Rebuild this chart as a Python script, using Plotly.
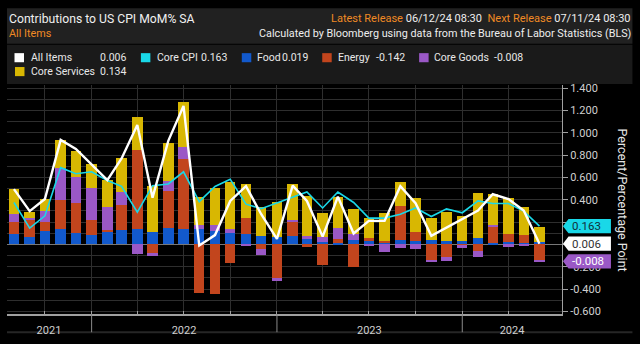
import plotly.graph_objects as go

# ---------------- data ----------------
months = ["2021-07-31", "2021-08-31", "2021-09-30", "2021-10-31", "2021-11-30", "2021-12-31",
          "2022-01-31", "2022-02-28", "2022-03-31", "2022-04-30", "2022-05-31", "2022-06-30",
          "2022-07-31", "2022-08-31", "2022-09-30", "2022-10-31", "2022-11-30", "2022-12-31",
          "2023-01-31", "2023-02-28", "2023-03-31", "2023-04-30", "2023-05-31", "2023-06-30",
          "2023-07-31", "2023-08-31", "2023-09-30", "2023-10-31", "2023-11-30", "2023-12-31",
          "2024-01-31", "2024-02-29", "2024-03-31", "2024-04-30", "2024-05-31"]

food = [0.089, 0.063, 0.123, 0.137, 0.106, 0.086,
        0.109, 0.132, 0.137, 0.109, 0.149, 0.140,
        0.140, 0.120, 0.103, 0.097, 0.074, 0.063,
        0.074, 0.052, 0.017, 0.011, 0.040, 0.034,
        0.011, 0.040, 0.026, 0.040, 0.026, 0.026,
        0.060, 0.011, 0.017, 0.011, 0.019]

energy = [0.114, 0.157, 0.080, 0.263, 0.260, 0.134,
          0.023, 0.223, 0.704, -0.077, 0.332, 0.621,
          -0.438, -0.444, -0.166, 0.137, -0.045, -0.298,
          0.123, -0.023, -0.183, 0.040, -0.203, 0.023,
          0.020, 0.300, 0.083, -0.137, -0.109, -0.010,
          -0.063, 0.143, 0.080, 0.072, -0.142]

core_goods = [0.072, 0.014, 0.094, 0.286, 0.237, 0.289,
              0.200, 0.114, -0.087, -0.029, 0.086, 0.114,
              0.029, 0.057, 0.037, -0.015, -0.050, -0.029,
              0.020, 0.023, 0.046, 0.097, 0.057, -0.017,
              -0.069, -0.037, -0.046, -0.023, -0.037, -0.023,
              -0.049, 0.020, -0.023, -0.017, -0.008]

core_services = [0.220, 0.052, 0.109, 0.249, 0.237, 0.209,
                 0.243, 0.306, 0.300, 0.418, 0.338, 0.400,
                 0.258, 0.332, 0.420, 0.303, 0.258, 0.320,
                 0.323, 0.360, 0.220, 0.278, 0.223, 0.183,
                 0.252, 0.220, 0.303, 0.200, 0.263, 0.232,
                 0.403, 0.280, 0.315, 0.249, 0.134]

all_items = [0.495, 0.298, 0.406, 0.936, 0.855, 0.712,
             0.575, 0.770, 1.070, 0.418, 0.927, 1.240,
             -0.010, 0.083, 0.389, 0.521, 0.270, 0.049,
             0.526, 0.389, 0.069, 0.426, 0.097, 0.210,
             0.210, 0.521, 0.369, 0.077, 0.149, 0.223,
             0.303, 0.449, 0.406, 0.303, 0.006]

core_cpi = [0.375, 0.146, 0.255, 0.687, 0.632, 0.650,
            0.572, 0.520, 0.289, 0.526, 0.541, 0.650,
            0.383, 0.518, 0.584, 0.360, 0.320, 0.372,
            0.426, 0.469, 0.326, 0.469, 0.375, 0.235,
            0.235, 0.270, 0.326, 0.249, 0.318, 0.283,
            0.389, 0.366, 0.366, 0.298, 0.163]

year_ticks = ["2021-10-08", "2022-07-01", "2023-07-01", "2024-04-07"]
year_labels = ["2021", "2022", "2023", "2024"]
quarter_lines = ["2021-09-30", "2021-12-31", "2022-03-31", "2022-06-30", "2022-09-30",
                 "2022-12-31", "2023-03-31", "2023-06-30", "2023-09-30", "2023-12-31",
                 "2024-03-31"]
year_breaks = ["2021-12-31", "2022-12-31", "2023-12-31"]
y_ticks = [-0.6, -0.4, -0.2, 0.0, 0.2, 0.4, 0.6, 0.8, 1.0, 1.2, 1.4]
# 0.200 and 0.000 sit fully behind the value tags in the reference
y_labels = ["" if v in (0.0, 0.2) else f"{v:.3f}" for v in y_ticks]

# ---------------- geometry ----------------
W, H = 640, 344
L, R, T, B = 7, 562.5, 85, 324
Y_MIN, Y_MAX = -0.624, 1.4275
PPU = (B - T) / (Y_MAX - Y_MIN)


def px(x):
    return (x - L) / (R - L)


def py(y):
    return (B - y) / (B - T)


C_FOOD = "#1259cc"
C_ENERGY = "#c2451d"
C_CG = "#9a58c6"
C_CS = "#d8b702"
C_CORE = "#19d8e8"
C_ALL = "#ffffff"
ORANGE = "#f08a24"
FONT = "Roboto, 'Liberation Sans', Arial, sans-serif"

fig = go.Figure()
bar_w = 20.5 * 86400000
for name, vals, col in [("Food", food, C_FOOD), ("Energy", energy, C_ENERGY),
                        ("Core Goods", core_goods, C_CG), ("Core Services", core_services, C_CS)]:
    fig.add_bar(x=months, y=vals, name=name, width=bar_w,
                marker=dict(color=col, line=dict(width=0)))
fig.add_scatter(x=months, y=core_cpi, mode="lines", name="Core CPI",
                line=dict(color=C_CORE, width=1.6))
fig.add_scatter(x=months, y=all_items, mode="lines", name="All Items",
                line=dict(color=C_ALL, width=2.4))

shapes = []
ann = []
# header panels
shapes.append(dict(type="rect", xref="paper", yref="paper", x0=px(7), x1=px(633), y0=py(42), y1=py(5),
                   fillcolor="#212121", line=dict(width=0), layer="below"))
shapes.append(dict(type="rect", xref="paper", yref="paper", x0=px(7), x1=px(633), y0=py(84), y1=py(43),
                   fillcolor="#1a1a1a", line=dict(width=0), layer="below"))
# bottom border strip
shapes.append(dict(type="rect", xref="paper", yref="paper", x0=px(7), x1=px(633), y0=py(344), y1=py(342),
                   fillcolor="#262626", line=dict(width=0), layer="below"))
# year separators in the label band
for d in year_breaks:
    shapes.append(dict(type="line", xref="x", yref="paper", x0=d, x1=d, y0=py(343), y1=py(324),
                       line=dict(color="#8a8a8a", width=1)))

# title block
ann.append(dict(text="Contributions to US CPI MoM% SA", x=px(7.5), y=py(16.5), xanchor="left",
                yanchor="middle", font=dict(size=12.2, color="#f0f0f0")))
ann.append(dict(text="All Items", x=px(7), y=py(31), xanchor="left", yanchor="middle",
                font=dict(size=10.8, color=ORANGE)))
ann.append(dict(text=f"<span style='color:{ORANGE}'>Latest Release</span> 06/12/24 08:30  "
                     f"<span style='color:{ORANGE}'>Next Release</span> 07/11/24 08:30",
                x=px(634), y=py(16), xanchor="right", yanchor="middle",
                font=dict(size=11, color="#eeeeee")))
ann.append(dict(text="Calculated by Bloomberg using data from the Bureau of Labor Statistics (BLS)",
                x=px(634), y=py(31), xanchor="right", yanchor="middle",
                font=dict(size=10.8, color="#eeeeee")))

# custom legend
legend_items = [
    ("All Items", all_items[-1], C_ALL, 14.5, 29, 128.5, 56.5),
    ("Core CPI", core_cpi[-1], C_CORE, 141, 155, 229.5, 56.5),
    ("Food", food[-1], C_FOOD, 242, 255, 310, 56.5),
    ("Energy", energy[-1], C_ENERGY, 322.5, 336, 407.5, 56.5),
    ("Core Goods", core_goods[-1], C_CG, 419.5, 432, 525, 56.5),
    ("Core Services", core_services[-1], C_CS, 15, 29, 128.5, 71),
]
for name, val, col, sq, tx, vx, yy in legend_items:
    s = 9.5
    shapes.append(dict(type="rect", xref="paper", yref="paper", x0=px(sq), x1=px(sq + s),
                       y0=py(yy + s / 2), y1=py(yy - s / 2), fillcolor=col, line=dict(width=0)))
    ann.append(dict(text=name, x=px(tx), y=py(yy), xanchor="left", yanchor="middle",
                    font=dict(size=10.5, color="#e8e8e8")))
    ann.append(dict(text=f"{val:.3f}", x=px(vx), y=py(yy), xanchor="right", yanchor="middle",
                    font=dict(size=10.5, color="#e8e8e8")))

# right value tags
half = 7.5 / PPU
tags = [
    (core_cpi[-1], core_cpi[-1], C_CORE, "#10303a"),
    (all_items[-1], all_items[-1], "#ffffff", "#333333"),
    (core_goods[-1], -0.152, C_CG, "#ffffff"),
]
for val, yc, bg, fg in tags:
    path = (f"M {px(563.5)},{yc} L {px(569)},{yc + half} L {px(611.5)},{yc + half} "
            f"L {px(611.5)},{yc - half} L {px(569)},{yc - half} Z")
    shapes.append(dict(type="path", xref="paper", yref="y", path=path, fillcolor=bg,
                       line=dict(width=0), layer="above"))
    ann.append(dict(text=f"{val:.3f}", x=px(570.5), y=yc, xref="paper", yref="y",
                    xanchor="left", yanchor="middle", font=dict(size=11.5, color=fg)))

# axis title (reads top to bottom)
ann.append(dict(text="Percent/Percentage Point", x=px(623), y=py(205), textangle=90,
                xanchor="center", yanchor="middle", font=dict(size=12.5, color="#e6e6e6")))

for a in ann:
    a.setdefault("xref", "paper")
    a.setdefault("yref", "paper")
    a["showarrow"] = False

fig.update_layout(
    width=W, height=H,
    margin=dict(l=L, r=W - R, t=T, b=H - B, pad=0),
    paper_bgcolor="#000000", plot_bgcolor="#000000",
    barmode="relative", bargap=0, showlegend=False,
    font=dict(family=FONT, color="#d9d9d9", size=11),
    shapes=shapes, annotations=ann,
    xaxis=dict(type="date", range=["2021-07-17 08:00", "2024-07-14 10:00"],
               tickmode="array", tickvals=year_ticks, ticktext=year_labels, ticks="",
               ticklabelstandoff=5,
               showgrid=False, zeroline=False, showline=True, linecolor="#a0a0a0", linewidth=1.5,
               tickfont=dict(size=11, color="#cfcfcf"),
               minor=dict(tickmode="array", tickvals=quarter_lines, showgrid=True,
                          gridcolor="#2e2e2e", gridwidth=1, ticks="inside", ticklen=3,
                          tickcolor="#a0a0a0")),
    yaxis=dict(side="right", range=[Y_MIN, Y_MAX], tickmode="array", tickvals=y_ticks,
               ticktext=y_labels, showgrid=True, gridcolor="#2e2e2e", gridwidth=1,
               minor=dict(dtick=0.1, tick0=0, showgrid=True, gridcolor="#2e2e2e", gridwidth=1),
               zeroline=True, zerolinecolor="#787878", zerolinewidth=1,
               showline=True, linecolor="#a0a0a0", linewidth=1,
               ticks="outside", ticklen=5, tickcolor="#a0a0a0",
               tickfont=dict(size=11, color="#d0d0d0")),
)

fig.write_html("out.html")
